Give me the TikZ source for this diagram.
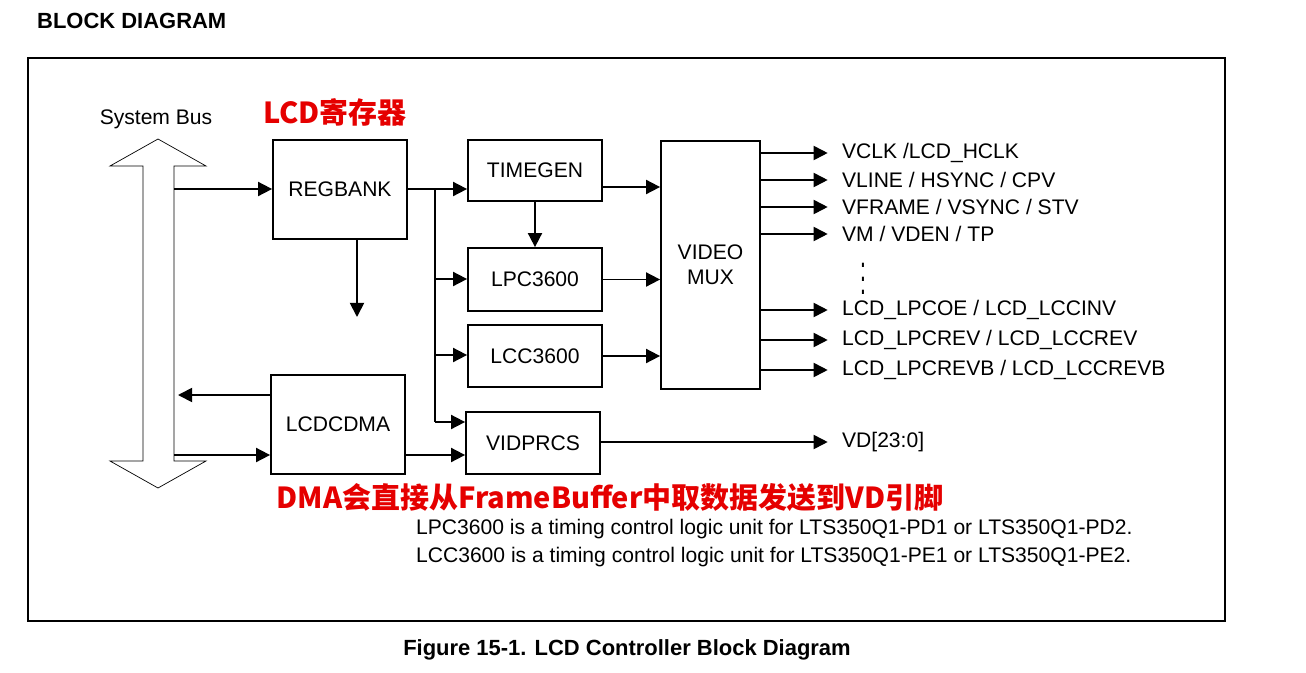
\documentclass[tikz,border=0pt]{standalone}
\usepackage{fontspec}
\usepackage{graphicx}
\setmainfont{Liberation Sans}
\newfontfamily\cjk{Noto Sans CJK SC}[BoldFont={Noto Sans CJK SC Black}]
\usetikzlibrary{arrows.meta}
\tikzset{
  blk/.style={draw, line width=1pt, rectangle, inner sep=0pt, align=center, font=\fontsize{12}{14}\selectfont},
  sig/.style={line width=1pt, -{Triangle[length=8pt,width=8pt]}},
  lbl/.style={anchor=west, inner sep=1pt, font=\fontsize{12}{14}\selectfont},
  note/.style={text=red!90!black, font=\cjk\bfseries\fontsize{16.5}{19}\selectfont, inner sep=0pt}
}
\begin{document}
\begin{tikzpicture}[x=0.02cm, y=-0.02cm]
  \useasboundingbox (0,0) rectangle (1306,673);
  \node[anchor=west, font=\bfseries\fontsize{12.5}{14}\selectfont] (title) at (31,21) {BLOCK DIAGRAM};
  \draw[line width=1pt] (28,58) rectangle (1225,621);
  \node[font=\bfseries\fontsize{12.5}{14}\selectfont] (caption) at (627,650) {Figure 15-1. LCD Controller Block Diagram};

  % system bus
  \draw[thin] (158,139) -- (206,166) -- (174,166) -- (174,461) -- (206,461) -- (158,488)
    -- (110,461) -- (143,461) -- (143,166) -- (110,166) -- cycle;
  \node[font=\fontsize{12}{14}\selectfont] (bus) at (156,119) {System Bus};

  % blocks
  \node[blk, minimum width=134*0.02cm, minimum height=99*0.02cm] (regbank) at (340,189.5) {REGBANK};
  \node[blk, minimum width=134*0.02cm, minimum height=99*0.02cm] (lcdcdma) at (338,424.5) {LCDCDMA};
  \node[blk, minimum width=134*0.02cm, minimum height=61*0.02cm] (timegen) at (535,170.5) {TIMEGEN};
  \node[blk, minimum width=134*0.02cm, minimum height=63*0.02cm] (lpc) at (535,279.5) {LPC3600};
  \node[blk, minimum width=134*0.02cm, minimum height=62*0.02cm] (lcc) at (535,356) {LCC3600};
  \node[blk, minimum width=134*0.02cm, minimum height=62*0.02cm] (vidprcs) at (533,443) {VIDPRCS};
  \node[blk, minimum width=99*0.02cm, minimum height=248*0.02cm] (mux) at (710.5,265) {VIDEO\\MUX};

  \node[note] (regnote) at (335,112) {LCD寄存器};
  \node[note] (dmanote) at (610,498) {DMA会直接从FrameBuffer中取数据发送到VD引脚};

  % connectors
  \coordinate (busr1) at (174,189);
  \coordinate (busr2) at (178,395);
  \coordinate (busr3) at (174,455);
  \coordinate (split) at (435,189);
  \coordinate (regdown) at (357,317);
  \draw[sig] (busr1) -- (regbank.west |- busr1);
  \draw[sig] (lcdcdma.west |- busr2) -- (busr2);
  \draw[sig] (busr3) -- (lcdcdma.west |- busr3);
  \draw[sig] (regbank.south -| regdown) -- (regdown);
  \draw[sig] (regbank.east |- split) -- (timegen.west |- split);
  \draw[line width=1pt] (split) -- (435,422);
  \draw[sig] (435,279) -- (lpc.west |- 435,279);
  \draw[sig] (435,355) -- (lcc.west |- 435,355);
  \draw[sig] (435,422) -- (vidprcs.west |- 435,422);
  \draw[sig] (lcdcdma.east |- busr3) -- (vidprcs.west |- busr3);
  \draw[sig] (timegen.east |- 0,187) -- (mux.west |- 0,187);
  \draw[sig] (timegen.south) -- (lpc.north);
  \draw[sig] (lpc.east) -- (mux.west |- lpc.east);
  \draw[sig] (lcc.east) -- (mux.west |- lcc.east);

  \foreach \y/\name/\txt in {153/vclk/{VCLK /LCD\_HCLK}, 180/vline/{VLINE / HSYNC / CPV},
      207/vframe/{VFRAME / VSYNC / STV}, 234/vm/{VM / VDEN / TP},
      310/lpcoe/{LCD\_LPCOE / LCD\_LCCINV}, 340/lpcrev/{LCD\_LPCREV / LCD\_LCCREV},
      370/lpcrevb/{LCD\_LPCREVB / LCD\_LCCREVB}} {
    \node[lbl] (\name) at (840,\y) {\txt};
    \draw[sig] (mux.east |- \name.west) -- ([xshift=-7pt]\name.west);
  }
  \node[lbl] (vd) at (840,442) {VD[23:0]};
  \draw[sig] (vidprcs.east |- vd.west) -- ([xshift=-7pt]vd.west);
  \node[font=\fontsize{12}{14}\selectfont, inner sep=0pt] (dots) at (863,269) {\scalebox{1}[1.9]{$\vdots$}};

  \node[lbl, align=left, font=\fontsize{12}{16}\selectfont] (info) at (414,543)
    {LPC3600 is a timing control logic unit for LTS350Q1-PD1 or LTS350Q1-PD2.\\
     LCC3600 is a timing control logic unit for LTS350Q1-PE1 or LTS350Q1-PE2.};
\end{tikzpicture}
\end{document}
